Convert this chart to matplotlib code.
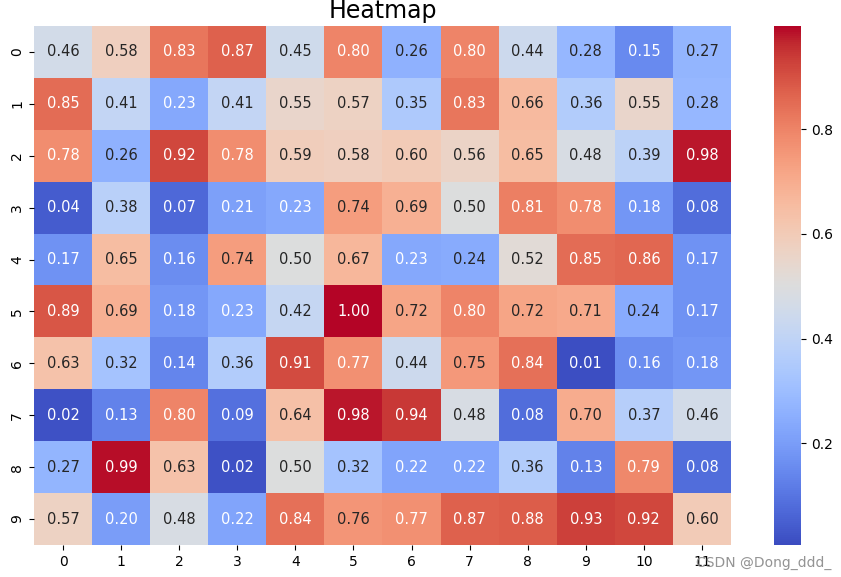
import matplotlib
matplotlib.use('Agg')
import matplotlib.pyplot as plt
import numpy as np
import seaborn as sns

# values (10 rows x 12 columns)
row0 = [0.46, 0.58, 0.83, 0.87, 0.45, 0.80, 0.26, 0.80, 0.44, 0.28, 0.15, 0.27]
row1 = [0.85, 0.41, 0.23, 0.41, 0.55, 0.57, 0.35, 0.83, 0.66, 0.36, 0.55, 0.28]
row2 = [0.78, 0.26, 0.92, 0.78, 0.59, 0.58, 0.60, 0.56, 0.65, 0.48, 0.39, 0.98]
row3 = [0.04, 0.38, 0.07, 0.21, 0.23, 0.74, 0.69, 0.50, 0.81, 0.78, 0.18, 0.08]
row4 = [0.17, 0.65, 0.16, 0.74, 0.50, 0.67, 0.23, 0.24, 0.52, 0.85, 0.86, 0.17]
row5 = [0.89, 0.69, 0.18, 0.23, 0.42, 1.00, 0.72, 0.80, 0.72, 0.71, 0.24, 0.17]
row6 = [0.63, 0.32, 0.14, 0.36, 0.91, 0.77, 0.44, 0.75, 0.84, 0.01, 0.16, 0.18]
row7 = [0.02, 0.13, 0.80, 0.09, 0.64, 0.98, 0.94, 0.48, 0.08, 0.70, 0.37, 0.46]
row8 = [0.27, 0.99, 0.63, 0.02, 0.50, 0.32, 0.22, 0.22, 0.36, 0.13, 0.79, 0.08]
row9 = [0.57, 0.20, 0.48, 0.22, 0.84, 0.76, 0.77, 0.87, 0.88, 0.93, 0.92, 0.60]

data = np.array([row0, row1, row2, row3, row4, row5, row6, row7, row8, row9])

fig = plt.figure(figsize=(8.41, 5.77), dpi=100)
ax = fig.add_axes([0.0404, 0.0555, 0.8288, 0.8995])
cax = fig.add_axes([0.9203, 0.0555, 0.0321, 0.8995])

sns.heatmap(data, annot=True, fmt='.2f', cmap='coolwarm', ax=ax, cbar_ax=cax,
            vmin=0.005, vmax=0.998, annot_kws={'size': 10.5})
ax.set_title('Heatmap', fontsize=17)
ax.tick_params(labelsize=10)
cax.tick_params(labelsize=10)
cax.set_yticks([0.2, 0.4, 0.6, 0.8])

# watermark
fig.text(0.828, 0.018, 'CSDN @Dong_ddd_', color='#888888', fontsize=10, alpha=0.9)

fig.savefig('out.png', dpi=100)
